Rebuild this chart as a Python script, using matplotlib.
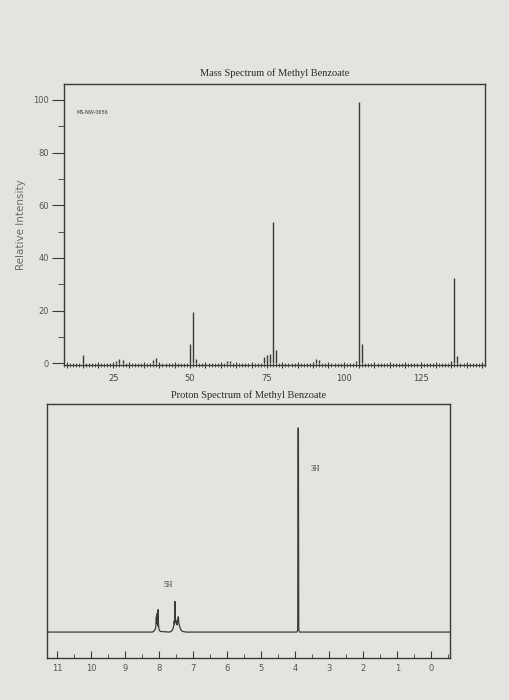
import numpy as np
import matplotlib.pyplot as plt
from matplotlib.ticker import MultipleLocator, FuncFormatter

# Mass spectrum peaks (m/z, relative intensity)
ms_mz = [15, 26, 27, 28, 38, 39, 50, 51, 52, 62, 63, 74, 75, 76, 77, 78, 91, 92, 104, 105, 106, 135, 136, 137]
ms_int = [3.0, 1.0, 1.5, 1.2, 1.2, 2.0, 7.5, 19.5, 1.5, 0.8, 0.8, 2.5, 3.0, 3.5, 53.5, 5.0, 1.5, 1.2, 1.0, 99.0, 7.5, 1.0, 32.5, 2.8]

# Proton NMR trace (ppm, intensity relative to the 3H singlet)
nmr_ppm = [11.3, 8.20, 8.15, 8.10, 8.09, 8.08, 8.07, 8.06, 8.05, 8.04, 8.03, 8.02, 8.00, 7.96, 7.70,
           7.64, 7.60, 7.57, 7.555, 7.545, 7.535, 7.525, 7.51, 7.49, 7.47, 7.45, 7.435, 7.42, 7.40,
           7.38, 7.35, 7.30, 7.20, 3.95, 3.925, 3.915, 3.905, 3.895, 3.87, -0.6]
nmr_int = [0.0, 0.0, 0.004, 0.02, 0.05, 0.075, 0.045, 0.09, 0.05, 0.03, 0.11, 0.04, 0.01, 0.003, 0.0,
           0.004, 0.012, 0.03, 0.055, 0.04, 0.15, 0.05, 0.06, 0.045, 0.035, 0.06, 0.075, 0.045, 0.03,
           0.02, 0.008, 0.003, 0.0, 0.0, 0.01, 1.0, 1.0, 0.01, 0.0, 0.0]

line_col = '#3a3a3a'
paper = '#e3e3df'

fig = plt.figure(figsize=(5.09, 7.0), dpi=100, facecolor=paper)

# ---- top: mass spectrum ----
ax1 = fig.add_axes([0.126, 0.479, 0.827, 0.401], facecolor=paper)
ax1.vlines(ms_mz, 0, ms_int, color=line_col, lw=1.0)
ax1.set_xlim(9, 146)
ax1.set_ylim(-0.5, 106)
ax1.xaxis.set_major_locator(MultipleLocator(5))
ax1.xaxis.set_minor_locator(MultipleLocator(1))
ax1.xaxis.set_major_formatter(FuncFormatter(lambda v, p: f"{int(v)}" if v % 25 == 0 else ""))
ax1.yaxis.set_major_locator(MultipleLocator(20))
ax1.yaxis.set_minor_locator(MultipleLocator(10))
ax1.tick_params(axis='x', which='major', direction='inout', length=5, width=0.8, color=line_col,
                labelsize=6, labelcolor='#444444', pad=4)
ax1.tick_params(axis='x', which='minor', direction='inout', length=3, width=0.6, color=line_col)
ax1.tick_params(axis='y', which='major', direction='out', length=9, width=0.8, color=line_col,
                labelsize=6, labelcolor='#555555', pad=2)
ax1.tick_params(axis='y', which='minor', direction='out', length=4, width=0.6, color=line_col)
for s in ax1.spines.values():
    s.set_color(line_col)
    s.set_linewidth(1.0)
ax1.set_ylabel('Relative Intensity', fontsize=7.5, color='#6a6a6a', labelpad=5)
ax1.set_title('Mass Spectrum of Methyl Benzoate', fontsize=7.5, family='Liberation Serif',
              color='#2a2a2a', pad=6)
ax1.text(13, 95, 'MS-NW-0656', fontsize=3.5, color='#333333', va='center')

# ---- bottom: proton NMR ----
ax2 = fig.add_axes([0.092, 0.06, 0.792, 0.363], facecolor=paper)
ax2.plot(nmr_ppm, nmr_int, color=line_col, lw=0.9)
ax2.set_xlim(11.3, -0.55)
ax2.set_ylim(-0.127, 1.118)
ax2.set_yticks([])
ax2.xaxis.set_major_locator(MultipleLocator(1))
ax2.xaxis.set_minor_locator(MultipleLocator(0.5))
ax2.tick_params(axis='x', which='major', direction='in', length=5, width=0.8, color=line_col,
                labelsize=6, labelcolor='#555555', pad=4)
ax2.tick_params(axis='x', which='minor', direction='in', length=3, width=0.6, color=line_col)
for s in ax2.spines.values():
    s.set_color(line_col)
    s.set_linewidth(1.0)
ax2.set_title('Proton Spectrum of Methyl Benzoate', fontsize=7.5, family='Liberation Serif',
              color='#2a2a2a', pad=4)
ax2.text(7.74, 0.22, '5H', fontsize=5.5, family='Liberation Serif', color='#333333', ha='center')
ax2.text(3.4, 0.79, '3H', fontsize=5.5, family='Liberation Serif', color='#333333', ha='center')

fig.savefig('out.png', dpi=100, facecolor=paper)
